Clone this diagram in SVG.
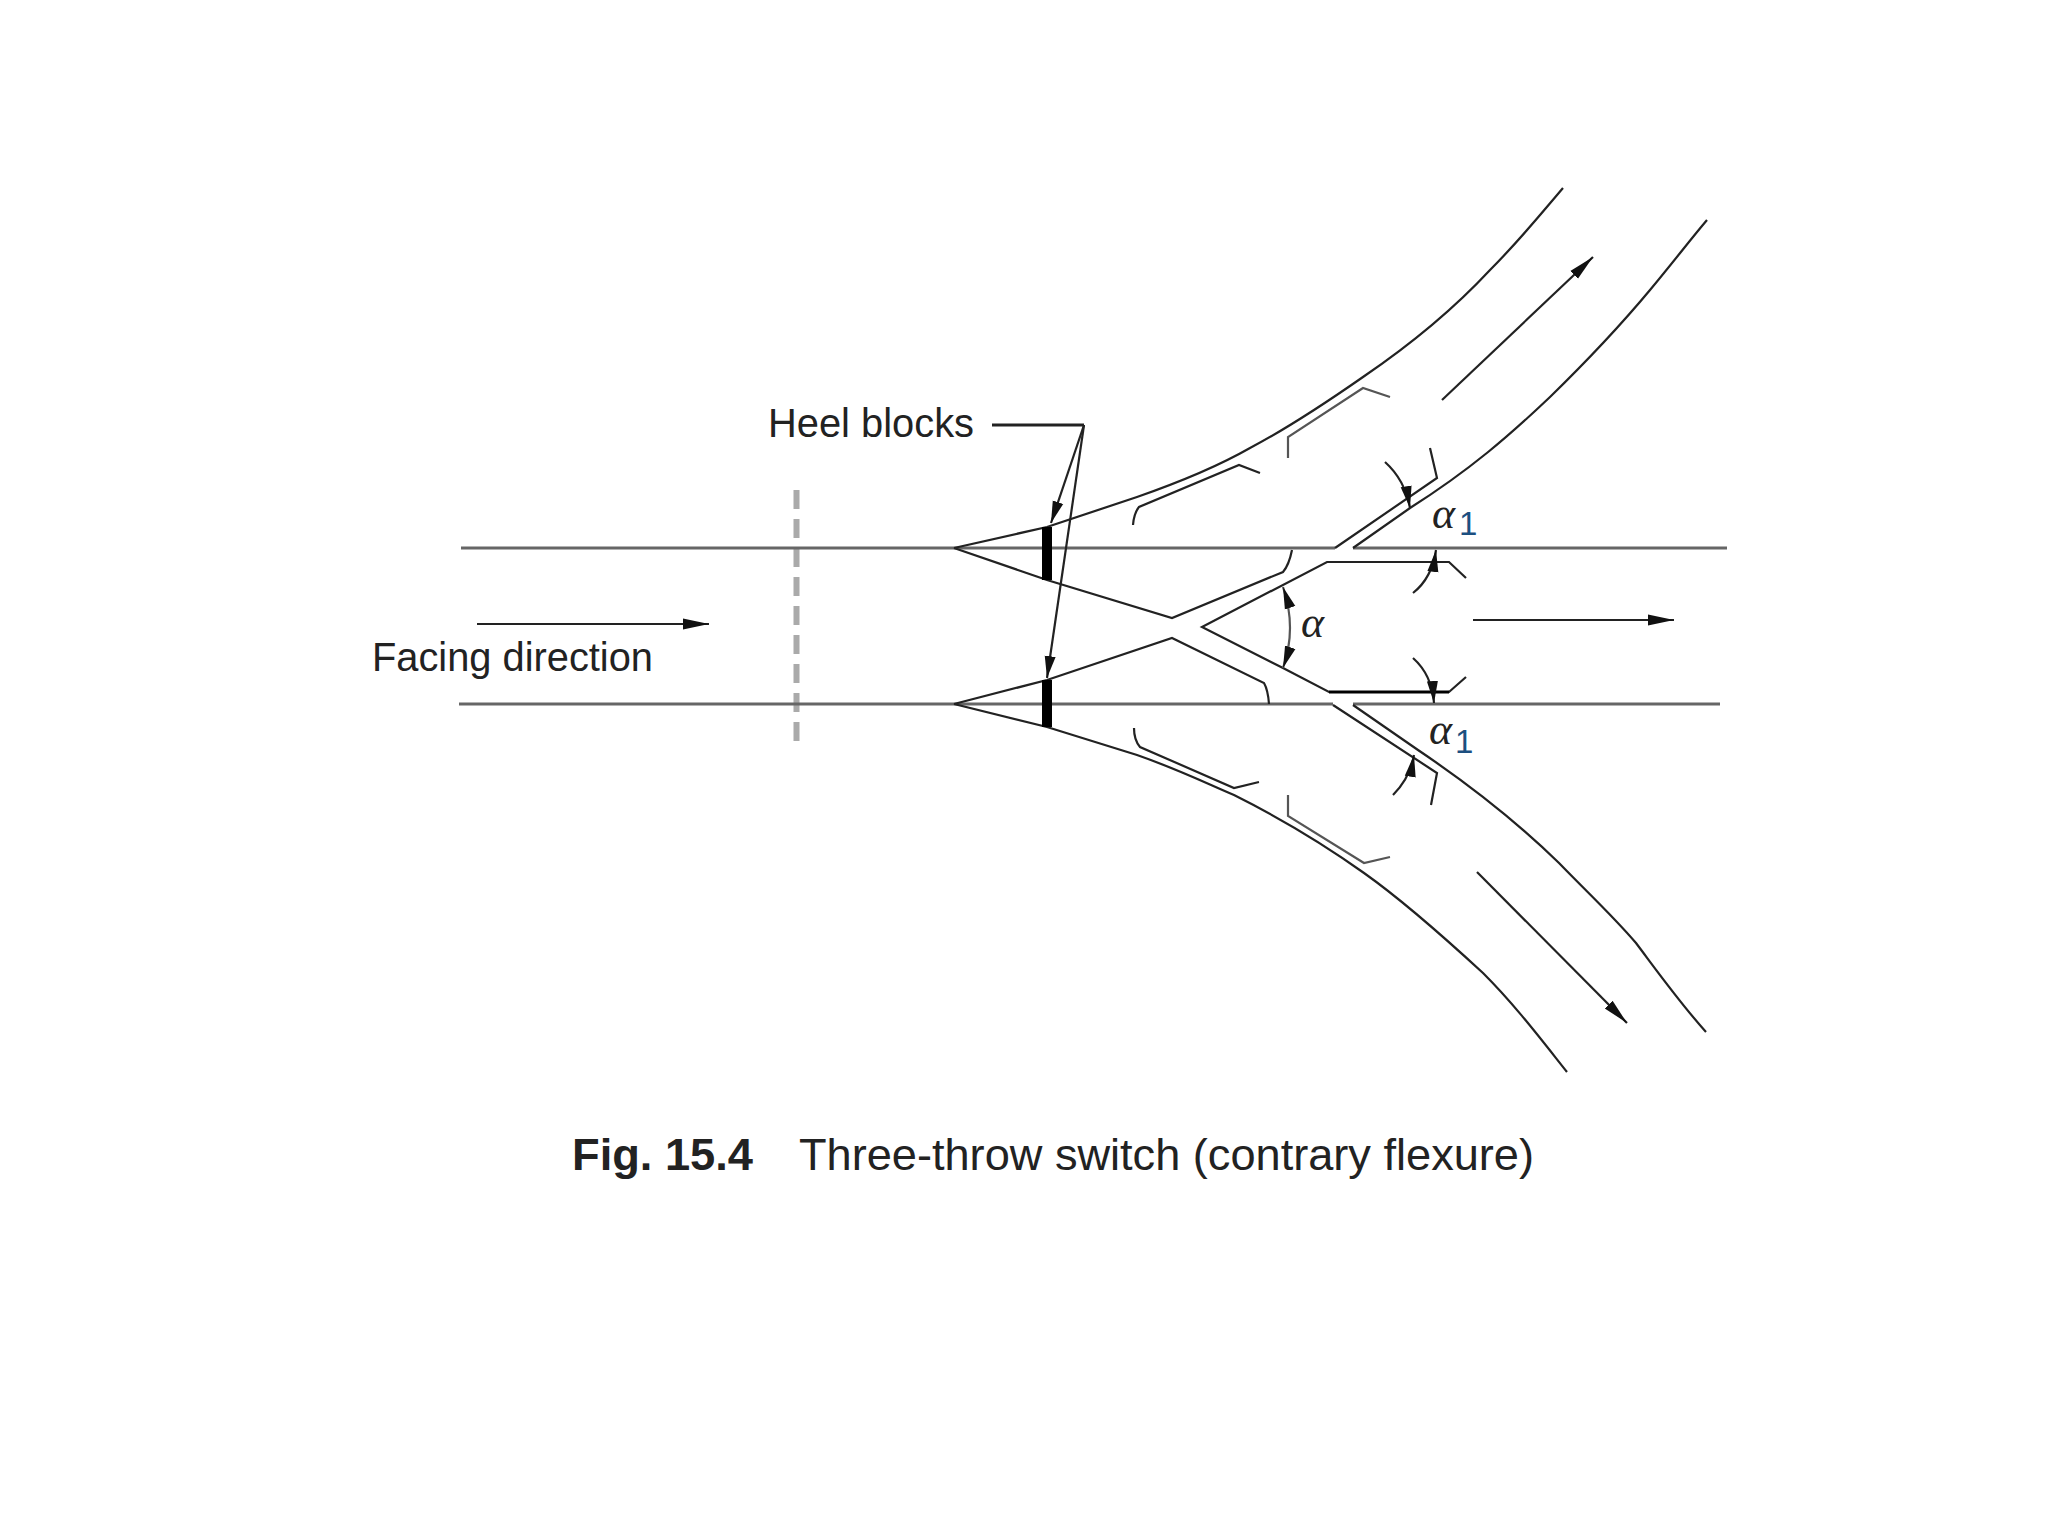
<svg xmlns="http://www.w3.org/2000/svg" width="2048" height="1536" viewBox="0 0 2048 1536">
<style>
.l{fill:none;stroke:#222;stroke-width:2.200}
.g{fill:none;stroke:#555;stroke-width:2.200}
.r{fill:none;stroke:#666;stroke-width:3}
.t{font-family:"Liberation Sans",Arial,sans-serif;fill:#222;font-size:40px}
.c{font-family:"Liberation Sans",Arial,sans-serif;fill:#222;font-size:44px}
.a{font-family:"Liberation Serif","DejaVu Serif",serif;font-style:italic;fill:#222;font-size:44px}
.s{font-family:"Liberation Sans",Arial,sans-serif;fill:#1c4f80;font-size:33px}
</style>
<defs>
<marker id="m" markerUnits="userSpaceOnUse" markerWidth="28" markerHeight="14" refX="26" refY="7" orient="auto"><path d="M0 1.500L26 7L0 12.500Z" fill="#111"/></marker>
<marker id="n" markerUnits="userSpaceOnUse" markerWidth="24" markerHeight="14" refX="22" refY="7" orient="auto-start-reverse"><path d="M0 1.500L22 7L0 12.500Z" fill="#111"/></marker>
</defs>
<rect width="2048" height="1536" fill="#fff"/>
<g id="rails">
<path d="M796.500 490V744" fill="none" stroke="#aaa" stroke-width="6" stroke-dasharray="19 10"/>
<path class="r" d="M461 548H1335M1353 548H1727"/>
<path class="r" d="M459 704H1333M1353 704H1720"/>
</g>
<g id="upper-switch">
<path class="l" d="M954 548L1047 527L1137 497C1180 482 1215 468 1250 448C1290 427 1330 400 1363 377C1410 345 1450 313 1490 270C1520 240 1540 215 1563 188"/>
<path class="l" d="M1133 525Q1134 513 1139 507L1239 465L1260 473"/>
<path class="g" d="M1288 458V437L1363 388L1390 397"/>
<path class="l" d="M1335 548L1437 478L1430 448"/>
<path class="l" d="M1353 548L1410 508C1470 470 1510 435 1550 397C1590 358 1625 320 1650 290C1675 260 1690 240 1707 220"/>
</g>
<g id="lower-switch">
<path class="l" d="M954 704L1047 727L1137 755C1180 770 1210 785 1234 795C1280 818 1325 845 1364 873C1405 902 1445 938 1483 973C1515 1005 1540 1038 1567 1072"/>
<path class="l" d="M1134 728Q1134 740 1140 747L1234 788L1259 782"/>
<path class="g" d="M1288 795V816L1364 863L1390 857"/>
<path class="l" d="M1333 705L1437 773L1431 805"/>
<path class="l" d="M1353 705L1418 750C1470 785 1520 825 1559 863C1590 895 1612 915 1636 943C1660 975 1680 1003 1706 1032"/>
</g>
<g id="frog">
<path class="l" d="M954 548L1047 580L1172 618L1283 572Q1289 565 1292 550"/>
<path class="l" d="M954 704L1047 680L1172 638L1264 683Q1268 690 1269 704"/>
<path class="l" d="M1466 578L1449 562H1327L1202 627L1283 668L1329 692H1449L1466 677"/>
<path d="M1329 692H1449" fill="none" stroke="#000" stroke-width="3"/>
</g>
<g id="heel-blocks">
<rect x="1042" y="527" width="10" height="53" fill="#000"/>
<rect x="1042" y="680" width="10" height="47" fill="#000"/>
</g>
<g id="connectors">
<path d="M992 425H1084" fill="none" stroke="#222" stroke-width="3"/>
<path class="l" d="M1084 425L1051 523" marker-end="url(#n)"/>
<path class="l" d="M1084 425L1047 678" marker-end="url(#n)"/>
<path class="l" d="M477 624H709" marker-end="url(#m)"/>
<path class="l" d="M1473 620H1674" marker-end="url(#m)"/>
<path class="l" d="M1442 400L1593 257" marker-end="url(#m)"/>
<path class="l" d="M1477 872L1627 1023" marker-end="url(#m)"/>
<path class="g" d="M1283 587Q1297 628 1283 668" marker-start="url(#n)" marker-end="url(#n)"/>
<path class="l" d="M1385 462Q1405 480 1410 508" marker-end="url(#n)"/>
<path class="l" d="M1413 593Q1432 578 1436 550" marker-end="url(#n)"/>
<path class="l" d="M1413 658Q1432 675 1434 703" marker-end="url(#n)"/>
<path class="l" d="M1393 795Q1410 778 1414 755" marker-end="url(#n)"/>
</g>
<g id="labels">
<text class="t" x="768" y="437" textLength="206" lengthAdjust="spacingAndGlyphs">Heel blocks</text>
<text class="t" x="372" y="671" textLength="281" lengthAdjust="spacingAndGlyphs">Facing direction</text>
<text class="a" x="1301" y="637">α</text>
<text class="a" x="1432" y="528">α</text><text class="s" x="1459" y="535">1</text>
<text class="a" x="1429" y="744">α</text><text class="s" x="1455" y="753">1</text>
<text class="c" x="572" y="1170" font-weight="bold" textLength="181" lengthAdjust="spacingAndGlyphs">Fig. 15.4</text>
<text class="c" x="799" y="1170" textLength="735" lengthAdjust="spacingAndGlyphs">Three-throw switch (contrary flexure)</text>
</g>
</svg>
